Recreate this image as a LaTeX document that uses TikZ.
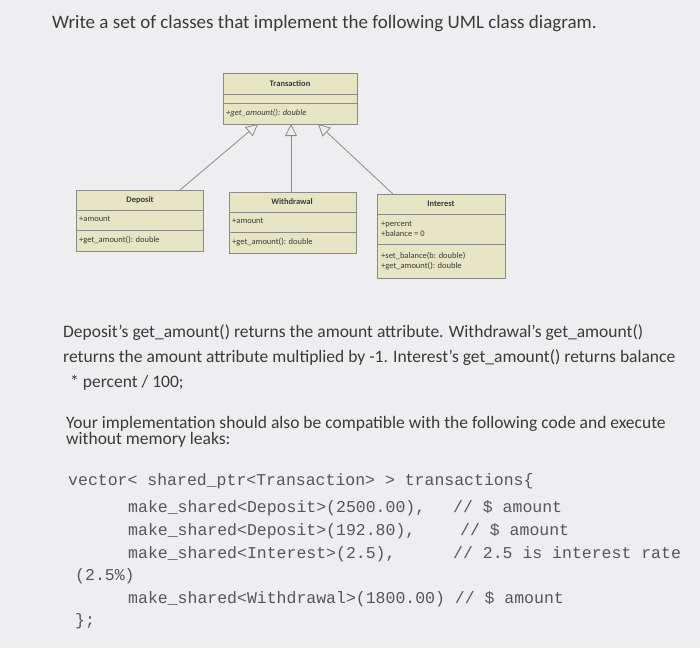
\documentclass[tikz,border=0pt]{standalone}
\usepackage{fontspec}
\setmainfont{Carlito}
\newfontfamily\codefont{Liberation Mono}
\usetikzlibrary{arrows.meta}
\definecolor{bg}{HTML}{EEEEF0}
\definecolor{umlfill}{HTML}{E6E6C4}
\definecolor{umlline}{HTML}{8A8A88}
\definecolor{txt}{HTML}{3A3A3A}
\definecolor{code}{HTML}{555560}
\tikzset{
  cls/.style={draw=umlline, fill=umlfill, line width=0.8pt},
  sec/.style={draw=umlline, line width=0.6pt},
  umltxt/.style={font=\fontsize{8.5}{10}\selectfont, text=txt, inner sep=0pt},
  ptxt/.style={anchor=base west, inner sep=0pt, text=txt, font=\fontsize{17.5}{20}\selectfont},
  ctxt/.style={anchor=base west, inner sep=0pt, text=code, font=\codefont\fontsize{16.5}{18}\selectfont},
  inh/.style={draw=umlline, line width=0.8pt, -{Triangle[open, length=12pt, width=12pt, fill=bg]}}
}
\begin{document}
\begin{tikzpicture}[x=1pt,y=-1pt]
\fill[bg] (0,0) rectangle (700,648);
\node[ptxt, font=\fontsize{19}{22}\selectfont] (title) at (52,28) {Write a set of classes that implement the following UML class diagram.};
% Transaction
\draw[cls] (223,73) rectangle (357,124);
\draw[sec] (223,94) -- (357,94) (223,103) -- (357,103);
\node[umltxt, font=\fontsize{8.5}{10}\selectfont\bfseries] (tn) at (290,84) {Transaction};
\node[umltxt, anchor=west, font=\fontsize{8.5}{10}\selectfont\itshape] (tm) at (226,113.5) {+get\_amount(): double};
\coordinate (ta) at (258,124); \coordinate (tb) at (291,124); \coordinate (tc) at (318,124);
% Deposit
\draw[cls] (76,190) rectangle (203,251);
\draw[sec] (76,210) -- (203,210) (76,230) -- (203,230);
\node[umltxt, font=\fontsize{8.5}{10}\selectfont\bfseries] (dn) at (140,200) {Deposit};
\node[umltxt, anchor=west] (da) at (79,219) {+amount};
\node[umltxt, anchor=west] (dm) at (79,240) {+get\_amount(): double};
\coordinate (dt) at (180,190);
% Withdrawal
\draw[cls] (229,192) rectangle (356,253);
\draw[sec] (229,212) -- (356,212) (229,232) -- (356,232);
\node[umltxt, font=\fontsize{8.5}{10}\selectfont\bfseries] (wn) at (292,202) {Withdrawal};
\node[umltxt, anchor=west] (wa) at (232,221) {+amount};
\node[umltxt, anchor=west] (wm) at (232,242) {+get\_amount(): double};
\coordinate (wt) at (291,192);
% Interest
\draw[cls] (377,194) rectangle (505,278);
\draw[sec] (377,214) -- (505,214) (377,244) -- (505,244);
\node[umltxt, font=\fontsize{8.5}{10}\selectfont\bfseries] (in) at (441,204) {Interest};
\node[umltxt, anchor=west, align=left] (ia) at (381,229) {+percent\\+balance = 0};
\node[umltxt, anchor=west, align=left] (im) at (381,261) {+set\_balance(b: double)\\+get\_amount(): double};
\coordinate (it) at (393,194);
\draw[inh] (dt) -- (ta);
\draw[inh] (wt) -- (tb);
\draw[inh] (it) -- (tc);
% paragraph
\node[ptxt] (p1) at (63,337) {Deposit's get\_amount() returns the amount attribute. Withdrawal's get\_amount()};
\node[ptxt] (p2) at (63,362) {returns the amount attribute multiplied by -1. Interest's get\_amount() returns balance};
\node[ptxt] (p3) at (70,387) {* percent / 100;};
\node[ptxt] (p4) at (66,428) {Your implementation should also be compatible with the following code and execute};
\node[ptxt] (p5) at (66,444) {without memory leaks:};
% code
\node[ctxt] (c1) at (68,485) {vector< shared\_ptr<Transaction> > transactions\{};
\node[ctxt] (c2) at (128,512) {make\_shared<Deposit>(2500.00),};
\node[ctxt] (c2c) at (453,512) {// \$ amount};
\node[ctxt] (c3) at (128,535) {make\_shared<Deposit>(192.80),};
\node[ctxt] (c3c) at (460,535) {// \$ amount};
\node[ctxt] (c4) at (128,558) {make\_shared<Interest>(2.5),};
\node[ctxt] (c4c) at (453,558) {// 2.5 is interest rate};
\node[ctxt] (c5) at (75,580) {(2.5\%)};
\node[ctxt] (c6) at (128,603) {make\_shared<Withdrawal>(1800.00) // \$ amount};
\node[ctxt] (c7) at (75,625) {\};};
\end{tikzpicture}
\end{document}
